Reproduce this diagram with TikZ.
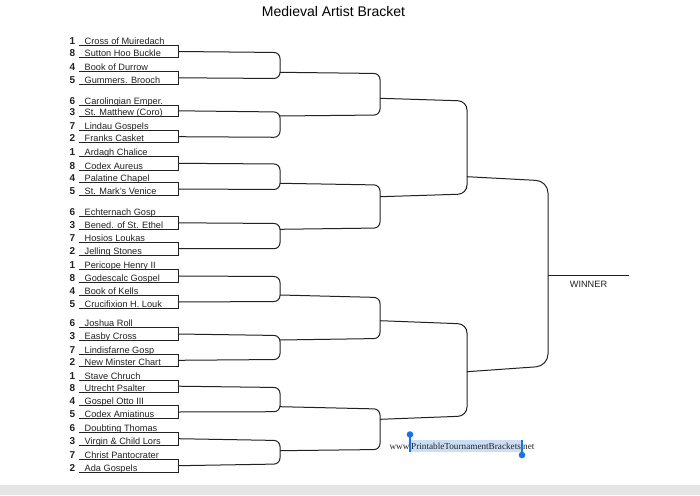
\documentclass[tikz,border=0pt]{standalone}
\usepackage{fontspec}
\setmainfont{Liberation Sans}
\newfontfamily\sitefont{Liberation Serif}
\definecolor{sqsqsq}{rgb}{0.13,0.13,0.13}
\definecolor{ccddff}{rgb}{0.8,0.87,0.96}
\definecolor{qqccff}{rgb}{0.1,0.45,0.9}
\definecolor{eeeeee}{rgb}{0.9,0.9,0.9}
\begin{document}
\begin{tikzpicture}[x=1pt,y=-1pt,
  art/.style={anchor=base west,inner sep=0pt,font=\fontsize{9.2}{10}\selectfont,color=sqsqsq},
  seed/.style={anchor=base west,inner sep=0pt,font=\fontsize{10}{11}\selectfont\bfseries,color=sqsqsq},
  pairbox/.style={line width=0.8pt,color=sqsqsq},
  brk/.style={line width=1pt,color=sqsqsq,rounded corners=6pt}]
\useasboundingbox (0,0) rectangle (700,495);
\fill [color=eeeeee] (0,485) rectangle (700,495);
\draw (333.5,11) node[anchor=center,font=\fontsize{14}{16}\selectfont] (title) {Medieval Artist Bracket};

\draw [pairbox] (79,45.7) -- (178,45.7) -- (178,57.3) -- (79,57.3);
\draw [pairbox] (79,71.7) -- (178,71.7) -- (178,84) -- (79,84);
\draw [pairbox] (79,105) -- (178,105) -- (178,116.7) -- (79,116.7);
\draw [pairbox] (79,130.7) -- (178,130.7) -- (178,142.7) -- (79,142.7);
\draw [pairbox] (79,156.7) -- (178,156.7) -- (178,170) -- (79,170);
\draw [pairbox] (79,182.3) -- (178,182.3) -- (178,195.7) -- (79,195.7);
\draw [pairbox] (79,216.7) -- (178,216.7) -- (178,229) -- (79,229);
\draw [pairbox] (79,242.3) -- (178,242.3) -- (178,255) -- (79,255);
\draw [pairbox] (79,269.3) -- (178,269.3) -- (178,282.7) -- (79,282.7);
\draw [pairbox] (79,295.7) -- (178,295.7) -- (178,308.3) -- (79,308.3);
\draw [pairbox] (79,327.3) -- (178,327.3) -- (178,340.7) -- (79,340.7);
\draw [pairbox] (79,354) -- (178,354) -- (178,366.7) -- (79,366.7);
\draw [pairbox] (79,380) -- (178,380) -- (178,392.3) -- (79,392.3);
\draw [pairbox] (79,405.7) -- (178,405.7) -- (178,418.3) -- (79,418.3);
\draw [pairbox] (79,432.3) -- (178,432.3) -- (178,445) -- (79,445);
\draw [pairbox] (79,459) -- (178,459) -- (178,472.3) -- (79,472.3);

\draw (69.5,44.7) node[seed] (s1) {1};
\draw (84.5,44.7) node[art] (a1) {Cross of Muiredach};
\draw (69.5,56.3) node[seed] (s2) {8};
\draw (84.5,56.3) node[art] (a2) {Sutton Hoo Buckle};
\draw (69.5,70.7) node[seed] (s3) {4};
\draw (84.5,70.7) node[art] (a3) {Book of Durrow};
\draw (69.5,83) node[seed] (s4) {5};
\draw (84.5,83) node[art] (a4) {Gummers. Brooch};
\draw (69.5,104) node[seed] (s5) {6};
\draw (84.5,104) node[art] (a5) {Carolingian Emper.};
\draw (69.5,115.7) node[seed] (s6) {3};
\draw (84.5,115.7) node[art] (a6) {St. Matthew (Coro)};
\draw (69.5,129.7) node[seed] (s7) {7};
\draw (84.5,129.7) node[art] (a7) {Lindau Gospels};
\draw (69.5,141.7) node[seed] (s8) {2};
\draw (84.5,141.7) node[art] (a8) {Franks Casket};
\draw (69.5,155.7) node[seed] (s9) {1};
\draw (84.5,155.7) node[art] (a9) {Ardagh Chalice};
\draw (69.5,169) node[seed] (s10) {8};
\draw (84.5,169) node[art] (a10) {Codex Aureus};
\draw (69.5,181.3) node[seed] (s11) {4};
\draw (84.5,181.3) node[art] (a11) {Palatine Chapel};
\draw (69.5,194.7) node[seed] (s12) {5};
\draw (84.5,194.7) node[art] (a12) {St. Mark's Venice};
\draw (69.5,215.7) node[seed] (s13) {6};
\draw (84.5,215.7) node[art] (a13) {Echternach Gosp};
\draw (69.5,228) node[seed] (s14) {3};
\draw (84.5,228) node[art] (a14) {Bened. of St. Ethel};
\draw (69.5,241.3) node[seed] (s15) {7};
\draw (84.5,241.3) node[art] (a15) {Hosios Loukas};
\draw (69.5,254) node[seed] (s16) {2};
\draw (84.5,254) node[art] (a16) {Jelling Stones};
\draw (69.5,268.3) node[seed] (s17) {1};
\draw (84.5,268.3) node[art] (a17) {Pericope Henry II};
\draw (69.5,281.7) node[seed] (s18) {8};
\draw (84.5,281.7) node[art] (a18) {Godescalc Gospel};
\draw (69.5,294.7) node[seed] (s19) {4};
\draw (84.5,294.7) node[art] (a19) {Book of Kells};
\draw (69.5,307.3) node[seed] (s20) {5};
\draw (84.5,307.3) node[art] (a20) {Crucifixion H. Louk};
\draw (69.5,326.3) node[seed] (s21) {6};
\draw (84.5,326.3) node[art] (a21) {Joshua Roll};
\draw (69.5,339.7) node[seed] (s22) {3};
\draw (84.5,339.7) node[art] (a22) {Easby Cross};
\draw (69.5,353) node[seed] (s23) {7};
\draw (84.5,353) node[art] (a23) {Lindisfarne Gosp};
\draw (69.5,365.7) node[seed] (s24) {2};
\draw (84.5,365.7) node[art] (a24) {New Minster Chart};
\draw (69.5,379) node[seed] (s25) {1};
\draw (84.5,379) node[art] (a25) {Stave Chruch};
\draw (69.5,391.3) node[seed] (s26) {8};
\draw (84.5,391.3) node[art] (a26) {Utrecht Psalter};
\draw (69.5,404.7) node[seed] (s27) {4};
\draw (84.5,404.7) node[art] (a27) {Gospel Otto III};
\draw (69.5,417.3) node[seed] (s28) {5};
\draw (84.5,417.3) node[art] (a28) {Codex Amiatinus};
\draw (69.5,431.3) node[seed] (s29) {6};
\draw (84.5,431.3) node[art] (a29) {Doubting Thomas};
\draw (69.5,444) node[seed] (s30) {3};
\draw (84.5,444) node[art] (a30) {Virgin \& Child Lors};
\draw (69.5,458) node[seed] (s31) {7};
\draw (84.5,458) node[art] (a31) {Christ Pantocrater};
\draw (69.5,471.3) node[seed] (s32) {2};
\draw (84.5,471.3) node[art] (a32) {Ada Gospels};

\draw [brk] (178,51.5) -- (280,52.5) -- (280,78.5) -- (178,77.8);
\draw [brk] (178,110.8) -- (280,112) -- (280,137.3) -- (178,136.7);
\draw [brk] (178,163.3) -- (280,164) -- (280,189.5) -- (178,189);
\draw [brk] (178,222.8) -- (280,223.5) -- (280,248.7) -- (178,248.7);
\draw [brk] (178,276) -- (280,276.5) -- (280,301.5) -- (178,302);
\draw [brk] (178,334) -- (280,335.5) -- (280,359.5) -- (178,360.3);
\draw [brk] (178,386.2) -- (280,387.5) -- (280,411.7) -- (178,412);
\draw [brk] (178,438.7) -- (280,440.5) -- (280,464) -- (178,465.7);

\draw [brk] (280,72.3) -- (380,73.5) -- (380,115) -- (280,116);
\draw [brk] (280,183.3) -- (380,185) -- (380,228) -- (280,229.3);
\draw [brk] (280,295) -- (380,297.5) -- (380,338.5) -- (280,340);
\draw [brk] (280,406.7) -- (380,409) -- (380,449.5) -- (280,450.7);

\draw [brk,rounded corners=9pt] (380,98.3) -- (467,101) -- (467,194) -- (380,196.7);
\draw [brk,rounded corners=9pt] (380,320.7) -- (467,324) -- (467,416) -- (380,419.3);

\draw [brk,rounded corners=12pt] (467,176.7) -- (548,181) -- (548,366) -- (467,371.7);
\draw [line width=1pt,color=sqsqsq] (548,275) -- (629,275);
\draw (588.5,284.5) node[anchor=center,font=\fontsize{9.2}{10}\selectfont,color=sqsqsq] (winner) {WINNER};

\fill [color=ccddff] (410,439.5) rectangle (522,452);
\draw (462,446) node[anchor=center,font=\sitefont\fontsize{9.2}{10}\selectfont,color=sqsqsq] (site) {www.PrintableTournamentBrackets.net};
\draw [line width=1.4pt,color=qqccff] (410,436) -- (410,452);
\fill [color=qqccff] (410,434.5) circle (3.3);
\draw [line width=1.4pt,color=qqccff] (522,440) -- (522,454);
\fill [color=qqccff] (522,455) circle (3.3);
\end{tikzpicture}
\end{document}
